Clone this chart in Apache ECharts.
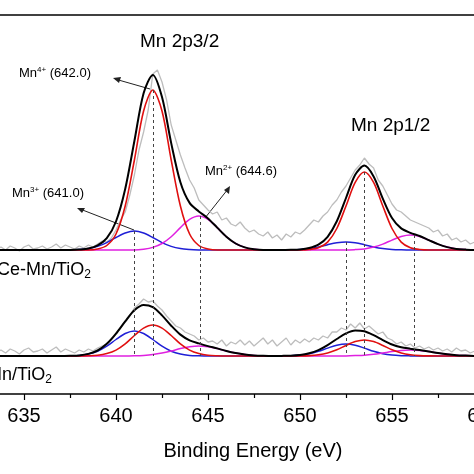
<!DOCTYPE html>
<html style="height: 100%">
<head>
<meta charset="utf-8">
<script src="https://cdn.jsdelivr.net/npm/echarts@6/dist/echarts.min.js"></script>
</head>
<body style="height: 100%; margin: 0">
<div id="container" style="width:474px;height:474px"></div>
<script>
// offsets of the two stacked spectra (chart units)
var upperBase = 144, lowerBase = 38;

// raw spectra, start 633.5 eV, step 0.25 eV
var rawStart = 633.5, rawStep = 0.25;
var rawUpper = [1,3, 0,4,2,-1, 3,5,1,2, 4,1,3,6, 2,5,3,1, 4,2,5,3, 6,9,8,12, 20,30,38,55, 75,100,118,140,
  176,180,168,150, 125,110,95,82, 70,62,50,45, 40,36,38,30, 32,26,24,28, 22,18,20,16, 14,18,12,15,
  10,16,13,18, 16,20,25,30, 28,34,38,45, 50,58,64,72, 80,85,92,86, 82,70,64,55, 46,40,38,34,
  30,28,26,24, 22,18,20,14, 16,10,12,8, 10,6,8];
var rawLower = [4,6, 3,7,5,2, 6,8,4,5, 7,3,6,9, 4,7,5,3, 6,4,7,5, 8,10,12,16, 22,28,34,40, 48,52,57,54,
  55,50,46,40, 35,30,28,24, 22,20,16,18, 14,15,12,16, 10,14,12,16, 11,15,10,14, 18,12,16,10,
  14,18,11,16, 13,17,14,18, 16,20,18,24, 24,28,26,32, 28,33,27,30, 26,22,24,18, 16,12,14,10,
  12,8,10,7, 9,6,8,5, 7,4,8,5, 6,3,5];

// fitted components [eV, height]
var upRed = [[639,1],[639.5,4.5],[640,16],[640.5,44],[641,90],[641.5,139],[642,160],[642.5,139],[643,90],[643.5,44],[644,16],[644.5,4.5],[645,1],
  [650.5,0.5],[651,2.2],[651.5,7.9],[652,21.5],[652.5,44],[653,67.6],[653.5,78],[654,67.6],[654.5,44],[655,21.5],[655.5,7.9],[656,2.2],[656.5,0.5]];
var upBlue = [[637.5,0.1],[638,0.5],[638.5,1.4],[639,3.6],[639.5,7.4],[640,12.5],[640.5,17],[641,19],[641.5,17],[642,12.5],[642.5,7.4],[643,3.6],[643.5,1.4],[644,0.5],[644.5,0.1],
  [649.5,0.2],[650,0.6],[650.5,1.5],[651,3.1],[651.5,5.3],[652,7.2],[652.5,8],[653,7.2],[653.5,5.3],[654,3.1],[654.5,1.5],[655,0.6],[655.5,0.2]];
var upMag = [[641.5,0.8],[642,2.6],[642.5,6.5],[643,13.3],[643.5,22.4],[644,30.6],[644.5,34],[645,30.6],[645.5,22.4],[646,13.3],[646.5,6.5],[647,2.6],[647.5,0.8],
  [653,0.4],[653.5,1.1],[654,2.9],[654.5,5.9],[655,9.9],[655.5,13.5],[656,15],[656.5,13.5],[657,9.9],[657.5,5.9],[658,2.9],[658.5,1.1],[659,0.4]];
var upSum = [[637.5,0.1],[638,0.5],[638.5,1.4],[639,4.6],[639.5,11.9],[640,28.5],[640.5,61],[641,109],[641.5,156.8],[642,175.1],[642.5,152.9],[643,106.9],[643.5,67.8],[644,47.1],[644.5,38.6],[645,31.6],[645.5,22.4],[646,13.3],[646.5,6.5],[647,2.6],[647.5,0.8],
  [649.5,0.2],[650,0.6],[650.5,2],[651,5.3],[651.5,13.2],[652,28.7],[652.5,52],[653,75.2],[653.5,84.4],[654,73.6],[654.5,51.4],[655,32],[655.5,21.6],[656,17.2],[656.5,14],[657,9.9],[657.5,5.9],[658,2.9],[658.5,1.1],[659,0.4]];

var loRed = [[638.5,0.2],[639,0.7],[639.5,2.4],[640,5.9],[640.5,12.1],[641,20.5],[641.5,27.9],[642,31],[642.5,27.9],[643,20.5],[643.5,12.1],[644,5.9],[644.5,2.4],[645,0.7],[645.5,0.2],
  [650,0.1],[650.5,0.4],[651,1.2],[651.5,3],[652,6.2],[652.5,10.6],[653,14.4],[653.5,16],[654,14.4],[654.5,10.6],[655,6.2],[655.5,3],[656,1.2],[656.5,0.4],[657,0.1]];
var loBlue = [[637.5,0.2],[638,0.6],[638.5,1.9],[639,4.8],[639.5,9.8],[640,16.5],[640.5,22.5],[641,25],[641.5,22.5],[642,16.5],[642.5,9.8],[643,4.8],[643.5,1.9],[644,0.6],[644.5,0.2],
  [649,0.1],[649.5,0.3],[650,0.9],[650.5,2.3],[651,4.7],[651.5,7.9],[652,10.8],[652.5,12],[653,10.8],[653.5,7.9],[654,4.7],[654.5,2.3],[655,0.9],[655.5,0.3],[656,0.1]];
var loMag = [[641,0.2],[641.5,0.6],[642,1.4],[642.5,2.9],[643,5],[643.5,7.4],[644,9.2],[644.5,10],[645,9.2],[645.5,7.4],[646,5],[646.5,2.9],[647,1.4],[647.5,0.6],[648,0.2],
  [652.5,0.1],[653,0.4],[653.5,0.8],[654,1.7],[654.5,3],[655,4.4],[655.5,5.5],[656,6],[656.5,5.5],[657,4.4],[657.5,3],[658,1.7],[658.5,0.8],[659,0.4],[659.5,0.1]];
var loSum = [[637.5,0.2],[638,0.6],[638.5,2.1],[639,5.5],[639.5,12.2],[640,22.4],[640.5,34.6],[641,45.7],[641.5,51],[642,48.9],[642.5,40.6],[643,30.3],[643.5,21.4],[644,15.7],[644.5,12.6],[645,9.9],[645.5,7.6],[646,5],[646.5,2.9],[647,1.4],[647.5,0.6],[648,0.2],
  [649,0.1],[649.5,0.3],[650,1],[650.5,2.7],[651,5.9],[651.5,10.9],[652,17],[652.5,22.7],[653,25.6],[653.5,24.7],[654,20.8],[654.5,15.9],[655,11.5],[655.5,8.8],[656,7.3],[656.5,5.9],[657,4.5],[657.5,3],[658,1.7],[658.5,0.8],[659,0.4],[659.5,0.1]];

// peak positions for dashed guides [eV, top (chart units)]
var guides = [[641.0,163],[642.0,304],[644.6,178],[652.5,152],[653.5,222],[656.2,159]];

function raw(arr, base) {
  return arr.map(function (v, i) { return [rawStart + i * rawStep, v + base]; });
}
function comp(arr, base) {
  var out = [[628, base]];
  arr.forEach(function (p) { out.push([p[0], p[1] + base]); });
  out.push([662, base]);
  // flat baseline between the two peak groups
  var res = [];
  for (var i = 0; i < out.length; i++) {
    if (i > 0 && out[i][0] - out[i - 1][0] > 0.6 && out[i - 1][1] > base) res.push([out[i - 1][0] + 0.5, base]);
    if (i > 0 && out[i][0] - out[i - 1][0] > 0.6 && out[i][1] > base) res.push([out[i][0] - 0.5, base]);
    res.push(out[i]);
  }
  return res;
}
function line(data, color, w, smooth) {
  return { type: 'line', data: data, showSymbol: false, smooth: smooth ? 0.3 : false, silent: true,
    lineStyle: { color: color, width: w }, z: 3 };
}

var font = 'Liberation Sans, Arial, sans-serif';
var supRich = { a: { fontSize: 13, fontFamily: font }, s: { fontSize: 8, fontFamily: font, padding: [0, 0, 7, 0] } };
var subRich = { a: { fontSize: 18, fontFamily: font }, s: { fontSize: 12, fontFamily: font, padding: [10, 0, 0, 0] } };
var series = [
  line(raw(rawUpper, upperBase), '#bdbdbd', 1.3, false),
  line(raw(rawLower, lowerBase), '#bdbdbd', 1.3, false),
  line(comp(upBlue, upperBase), '#1f1fd6', 1.5, true),
  line(comp(loBlue, lowerBase), '#1f1fd6', 1.5, true),
  line(comp(upMag, upperBase), '#e020e0', 1.5, true),
  line(comp(loMag, lowerBase), '#e020e0', 1.5, true),
  line(comp(upRed, upperBase), '#e01010', 1.6, true),
  line(comp(loRed, lowerBase), '#e01010', 1.6, true),
  line(comp(upSum, upperBase), '#000000', 2, true),
  line(comp(loSum, lowerBase), '#000000', 2, true),
  { type: 'line', data: [], markLine: { silent: true, symbol: 'none', label: { show: false },
      lineStyle: { color: '#444', type: [3, 3], width: 1 },
      data: guides.map(function (g) { return [{ coord: [g[0], g[1]] }, { coord: [g[0], lowerBase] }]; }) } }
];

var chart = echarts.init(document.getElementById('container'));
chart.setOption({
  animation: false,
  grid: { left: -68, right: -10, top: 15, bottom: 80, containLabel: false, outerBoundsMode: 'none' },
  xAxis: [{
    type: 'value', min: 630, max: 660, interval: 5,
    axisLine: { lineStyle: { color: '#000', width: 1.5 } },
    axisTick: { length: 6, lineStyle: { color: '#000', width: 1.2 } },
    minorTick: { show: true, splitNumber: 2, length: 4, lineStyle: { color: '#000', width: 1.2 } },
    axisLabel: { color: '#000', fontSize: 20, fontFamily: font, margin: 12 },
    splitLine: { show: false },
    name: 'Binding Energy (eV)', nameLocation: 'middle', nameGap: 47,
    nameTextStyle: { color: '#000', fontSize: 20, fontFamily: font, padding: [0, 0, 0, 90] }
  }, {
    type: 'value', position: 'top', min: 630, max: 660,
    axisLine: { lineStyle: { color: '#000', width: 1.5 } },
    axisTick: { show: false }, axisLabel: { show: false }, splitLine: { show: false }
  }],
  yAxis: { type: 'value', min: 0, max: 379, show: false },
  series: series,
  graphic: [
    { type: 'text', left: 140, top: 32, style: { text: 'Mn 2p3/2', font: '19px ' + font, fill: '#000' } },
    { type: 'text', left: 351, top: 116, style: { text: 'Mn 2p1/2', font: '19px ' + font, fill: '#000' } },
    { type: 'text', left: -3, top: 261, style: { rich: subRich, text: '{a|Ce-Mn/TiO}{s|2}', fill: '#000' } },
    { type: 'text', left: -13, top: 366, style: { rich: subRich, text: '{a|Mn/TiO}{s|2}', fill: '#000' } },
    { type: 'text', left: 19, top: 66, style: { rich: supRich, text: '{a|Mn}{s|4+}{a| (642.0)}', fill: '#000' } },
    { type: 'text', left: 205, top: 164, style: { rich: supRich, text: '{a|Mn}{s|2+}{a| (644.6)}', fill: '#000' } },
    { type: 'text', left: 12, top: 186, style: { rich: supRich, text: '{a|Mn}{s|3+}{a| (641.0)}', fill: '#000' } },
    { type: 'line', shape: { x1: 150, y1: 89, x2: 115, y2: 79 }, style: { stroke: '#222', lineWidth: 1 } },
    { type: 'polygon', shape: { points: [[113, 78], [121, 77], [119, 83]] }, style: { fill: '#222' } },
    { type: 'line', shape: { x1: 205, y1: 218, x2: 228, y2: 189 }, style: { stroke: '#222', lineWidth: 1 } },
    { type: 'polygon', shape: { points: [[230, 186], [229, 194], [224, 190]] }, style: { fill: '#222' } },
    { type: 'line', shape: { x1: 134, y1: 230, x2: 80, y2: 209 }, style: { stroke: '#222', lineWidth: 1 } },
    { type: 'polygon', shape: { points: [[77, 208], [85, 208], [82, 213]] }, style: { fill: '#222' } }
  ]
});
</script>
</body>
</html>
